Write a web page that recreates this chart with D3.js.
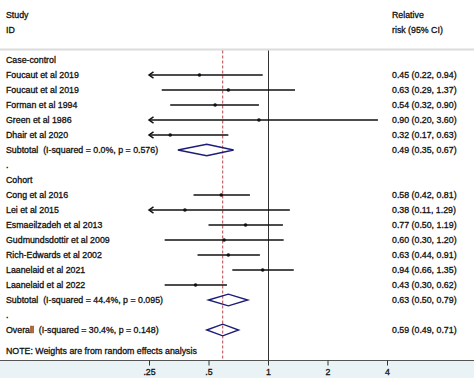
<!DOCTYPE html>
<html>
<head>
<meta charset="utf-8">
<script src="https://cdn.jsdelivr.net/npm/d3@7"></script>
<style>
html,body{margin:0;padding:0;background:#fff;}
svg{display:block;}
text{font-family:"Liberation Sans",Arial,sans-serif;font-size:8.8px;fill:#111;stroke:#111;stroke-width:0.3px;white-space:pre;}
</style>
</head>
<body>
<svg id="chart" width="474" height="378"></svg>
<script>
// ---- data ----
const rowLabels = [
  "Case-control",
  "Foucaut et al 2019",
  "Foucaut et al 2019",
  "Forman et al 1994",
  "Green et al 1986",
  "Dhair et al 2020",
  "Subtotal  (I-squared = 0.0%, p = 0.576)",
  ".",
  "Cohort",
  "Cong et al 2016",
  "Lei et al 2015",
  "Esmaeilzadeh et al 2013",
  "Gudmundsdottir et al 2009",
  "Rich-Edwards et al 2002",
  "Laanelaid et al 2021",
  "Laanelaid et al 2022",
  "Subtotal  (I-squared = 44.4%, p = 0.095)",
  ".",
  "Overall  (I-squared = 30.4%, p = 0.148)"
];
// row type: h = header, s = study, d = diamond, b = blank
const rowTypes = ["h","s","s","s","s","s","d","b","h","s","s","s","s","s","s","s","d","b","d"];
const estimates = [null,0.45,0.63,0.54,0.90,0.32,0.49,null,null,0.58,0.38,0.77,0.60,0.63,0.94,0.43,0.63,null,0.59];
const lowerCI   = [null,0.22,0.29,0.32,0.20,0.17,0.35,null,null,0.42,0.11,0.50,0.30,0.44,0.66,0.30,0.50,null,0.49];
const upperCI   = [null,0.94,1.37,0.90,3.60,0.63,0.67,null,null,0.81,1.29,1.19,1.20,0.91,1.35,0.62,0.79,null,0.71];
const ciLabels  = [null,"0.45 (0.22, 0.94)","0.63 (0.29, 1.37)","0.54 (0.32, 0.90)","0.90 (0.20, 3.60)","0.32 (0.17, 0.63)","0.49 (0.35, 0.67)",null,null,"0.58 (0.42, 0.81)","0.38 (0.11, 1.29)","0.77 (0.50, 1.19)","0.60 (0.30, 1.20)","0.63 (0.44, 0.91)","0.94 (0.66, 1.35)","0.43 (0.30, 0.62)","0.63 (0.50, 0.79)",null,"0.59 (0.49, 0.71)"];
const tickValues = [0.25, 0.5, 1, 2, 4];
const tickLabels = [".25", ".5", "1", "2", "4"];
const overallEstimate = 0.59;
const headerLeft = ["Study", "ID"];
const headerRight = ["Relative", "risk (95% CI)"];
const noteText = "NOTE: Weights are from random effects analysis";

// ---- layout ----
const W = 474, H = 378;
const svg = d3.select("#chart");
const x = d3.scaleLog().domain([0.25, 4]).range([149, 387]);
const y = d3.scaleLinear().domain([0, 1]).range([60, 75]);
const axisY = 360.5;
const topLineY = 49.5;
const leftX = 6, rightX = 392;

// bottom band
svg.append("rect").attr("x", 0).attr("y", axisY).attr("width", W).attr("height", H - axisY).attr("fill", "#e9f2f5");

// header text
headerLeft.forEach((t, i) => svg.append("text").attr("x", leftX).attr("y", 18 + i * 15).text(t));
headerRight.forEach((t, i) => svg.append("text").attr("x", rightX).attr("y", 18 + i * 15).text(t));

// separator
svg.append("line").attr("x1", 0).attr("x2", W).attr("y1", topLineY).attr("y2", topLineY)
  .attr("stroke", "#dcdcdc").attr("stroke-width", 2);

// null line at 1
svg.append("line").attr("x1", Math.round(x(1)) + 0.5).attr("x2", Math.round(x(1)) + 0.5)
  .attr("y1", topLineY + 1).attr("y2", axisY).attr("stroke", "#333").attr("stroke-width", 1);

// overall dashed line
svg.append("line").attr("x1", x(overallEstimate)).attr("x2", x(overallEstimate))
  .attr("y1", topLineY + 1).attr("y2", axisY).attr("stroke", "#b5474b").attr("stroke-width", 1)
  .attr("stroke-dasharray", "3,2");

// rows
const rows = rowLabels.map((lab, i) => ({
  lab, type: rowTypes[i], est: estimates[i], lo: lowerCI[i], hi: upperCI[i], ci: ciLabels[i], i
}));

const g = svg.append("g");
rows.forEach(r => {
  const cy = y(r.i);
  g.append("text").attr("x", leftX).attr("y", cy + 3).text(r.lab);
  if (r.ci) g.append("text").attr("x", rightX).attr("y", cy + 3).text(r.ci);
  if (r.type === "s") {
    const [d0, d1] = x.domain();
    const lo = Math.max(r.lo, d0), hi = Math.min(r.hi, d1);
    g.append("line").attr("x1", x(lo)).attr("x2", x(hi)).attr("y1", cy).attr("y2", cy)
      .attr("stroke", "#111").attr("stroke-width", 1.3);
    if (r.lo < d0) {
      const ax = x(d0);
      g.append("path").attr("d", `M${ax + 4.5},${cy - 3.2}L${ax},${cy}L${ax + 4.5},${cy + 3.2}`)
        .attr("fill", "none").attr("stroke", "#111").attr("stroke-width", 1.5);
    }
    g.append("circle").attr("cx", x(r.est)).attr("cy", cy).attr("r", 1.8).attr("fill", "#111");
  } else if (r.type === "d") {
    const h = 5.8;
    g.append("path")
      .attr("d", `M${x(r.lo)},${cy}L${x(r.est)},${cy - h}L${x(r.hi)},${cy}L${x(r.est)},${cy + h}Z`)
      .attr("fill", "none").attr("stroke", "#1c1c78").attr("stroke-width", 1.4);
  }
});

// note
svg.append("text").attr("x", leftX).attr("y", 354).text(noteText);

// axis
svg.append("line").attr("x1", 0).attr("x2", W).attr("y1", axisY).attr("y2", axisY)
  .attr("stroke", "#555").attr("stroke-width", 1);
const axis = d3.axisBottom(x).tickValues(tickValues).tickFormat((d, i) => tickLabels[i]).tickSize(5).tickPadding(4);
const ag = svg.append("g").attr("transform", `translate(0,${axisY})`).call(axis);
ag.select(".domain").remove();
ag.selectAll(".tick line").attr("stroke", "#333");
ag.selectAll(".tick text").attr("font-family", "Liberation Sans, Arial, sans-serif").attr("font-size", "8.5px")
  .attr("fill", "#333").attr("stroke", "none").attr("dy", "0.6em");
</script>
</body>
</html>
